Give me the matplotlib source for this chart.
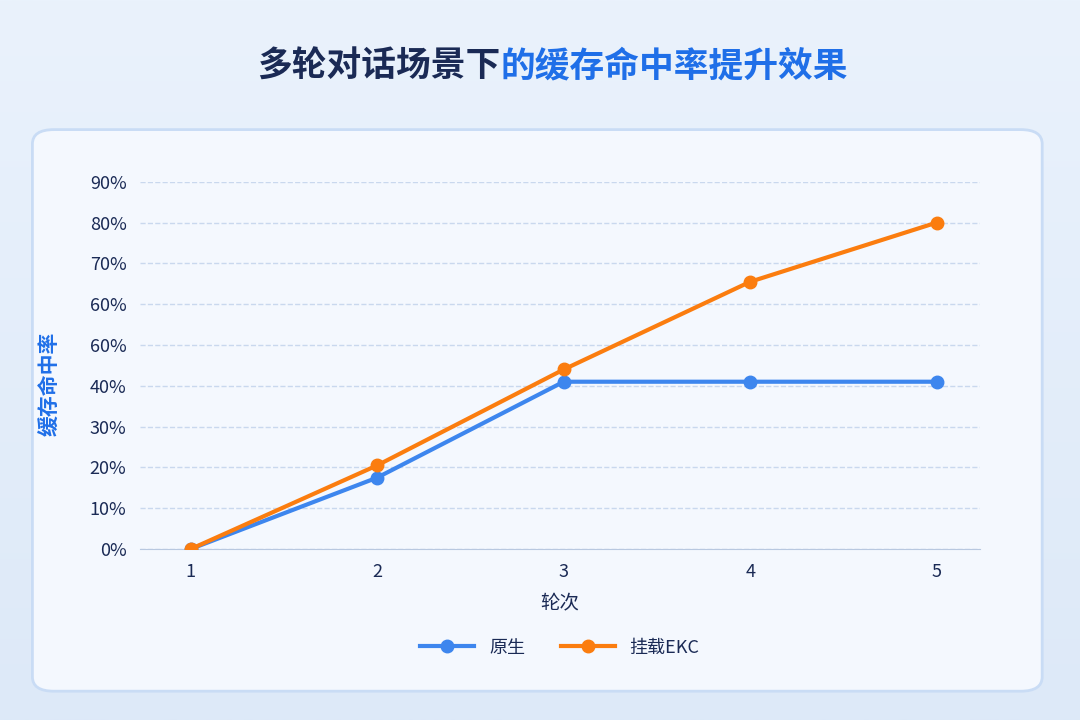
import numpy as np
import matplotlib.pyplot as plt
from matplotlib.patches import FancyBboxPatch

plt.rcParams['font.family'] = ['Noto Sans CJK SC', 'DejaVu Sans']

rounds = [1, 2, 3, 4, 5]
native = [0, 17.5, 41, 41, 41]
ekc = [0, 20.5, 44, 65.5, 80]
ytick_vals = [0, 10, 20, 30, 40, 50, 60, 70, 80, 90]
ytick_labels = ['0%', '10%', '20%', '30%', '40%', '60%', '60%', '70%', '80%', '90%']

blue = '#3d86ee'
orange = '#fb7d0f'
navy = '#1a2a55'

fig = plt.figure(figsize=(10.8, 7.2), dpi=100)
# background gradient
bg = fig.add_axes([0, 0, 1, 1], zorder=-10)
grad = np.linspace(0, 1, 256).reshape(-1, 1)
bg.imshow(grad, extent=[0, 1, 0, 1], cmap=plt.matplotlib.colors.LinearSegmentedColormap.from_list('g', ['#eaf2fc', '#dde9f8']), aspect='auto')
bg.add_patch(FancyBboxPatch((0.035, 0.045), 0.925, 0.77, boxstyle='round,pad=0.005,rounding_size=0.02',
                            facecolor='#f4f8fe', edgecolor='#c9dcf5', lw=2, transform=bg.transAxes))
bg.set_xlim(0, 1); bg.set_ylim(0, 1); bg.axis('off')

fig.text(0.463, 0.908, '多轮对话场景下', ha='right', va='center', fontsize=25, fontweight='bold', color=navy)
fig.text(0.463, 0.908, '的缓存命中率提升效果', ha='left', va='center', fontsize=25, fontweight='bold', color='#1f6fe8')

ax = fig.add_axes([0.13, 0.2375, 0.777, 0.51])
ax.set_facecolor('none')
ax.plot(rounds, native, color=blue, lw=3, marker='o', ms=9, label='原生', zorder=3)
ax.plot(rounds, ekc, color=orange, lw=3, marker='o', ms=9, label='挂载EKC', zorder=3)
ax.set_xlim(0.73, 5.23)
ax.set_ylim(0, 90)
ax.set_yticks(ytick_vals)
ax.set_yticklabels(ytick_labels)
ax.set_xticks(rounds)
ax.tick_params(length=0, labelsize=13, colors=navy, pad=10)
ax.grid(axis='y', ls='--', color='#c9d8ee', lw=1)
for s in ['top', 'right', 'left']:
    ax.spines[s].set_visible(False)
ax.spines['bottom'].set_color('#b8c8e0')
ax.set_xlabel('轮次', fontsize=14, color=navy, labelpad=8)
ax.set_ylabel('缓存命中率', fontsize=15, color='#1f6fe8', fontweight='bold', labelpad=12)
ax.yaxis.set_label_coords(-0.095, 0.45)
ax.legend(loc='upper center', bbox_to_anchor=(0.5, -0.2), ncol=2, frameon=False, fontsize=13,
          handlelength=3, columnspacing=2, labelcolor=navy)

fig.savefig('out.png', dpi=100)
